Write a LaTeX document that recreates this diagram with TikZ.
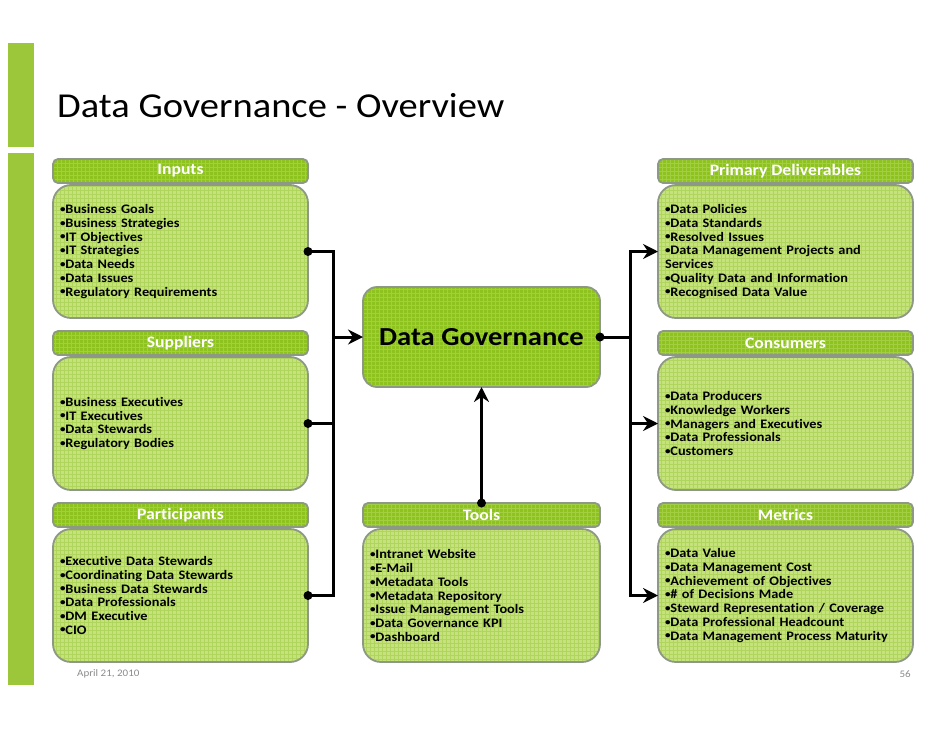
\documentclass[tikz,border=0pt]{standalone}
\usepackage{fontspec}
\setmainfont{Carlito}[FakeStretch=1.1, Ligatures=NoCommon]
\usetikzlibrary{arrows.meta}

\definecolor{barGreen}{HTML}{9DC73A}
\definecolor{headGreen}{HTML}{8DC21F}
\definecolor{headMesh}{HTML}{A2CE42}
\definecolor{bodyGreen}{HTML}{C6E27E}
\definecolor{bodyMesh}{HTML}{B0D55C}
\definecolor{edgeGray}{HTML}{8D9985}
\definecolor{footGray}{HTML}{8A8A8A}

\newcommand{\bul}{\raisebox{1.3pt}{\fontsize{10}{10}\selectfont•}}

\tikzset{
	mesh/.style={path picture={\draw[#1, line width=0.4pt]
		(path picture bounding box.south west) grid[step=4pt]
		(path picture bounding box.north east);}},
	headbox/.style={rectangle, draw=edgeGray, line width=1.8pt, rounded corners=5pt,
		fill=headGreen, mesh=headMesh, minimum width=255pt, minimum height=24pt,
		outer sep=0pt, text=white, font=\bfseries\fontsize{16}{16}\selectfont,
		anchor=north west},
	bodybox/.style={rectangle, draw=edgeGray, line width=1.8pt, rounded corners=18pt,
		fill=bodyGreen, mesh=bodyMesh, text width=241pt, inner xsep=7pt,
		minimum height=133pt, outer sep=0pt, align=left, anchor=north west,
		font=\bfseries\fontsize{13}{13.7}\selectfont},
	link/.style={draw=black, line width=3pt},
	tip/.style={-{Stealth[length=15pt, width=15pt, inset=5pt]}}
}

\begin{document}
\begin{tikzpicture}[x=1pt, y=-1pt]
	\useasboundingbox (0,0) rectangle (942,728);
	
	%Side bars and title
	\fill[barGreen] (8,43) rectangle (34,147);
	\fill[barGreen] (8,153) rectangle (34,685);
	\node (title) at (57,117) [anchor=base west, inner sep=0pt,
	font=\fontsize{35}{35}\selectfont] {Data Governance - Overview};
	
	%Headers
	\node (inputsHead) at (53,159) [headbox] {Inputs};
	\node (suppHead) at (53,331) [headbox] {Suppliers};
	\node (partsHead) at (53,503) [headbox] {Participants};
	\node (primHead) at (658,159) [headbox] {Primary Deliverables};
	\node (consHead) at (658,331) [headbox] {Consumers};
	\node (metricsHead) at (658,503) [headbox] {Metrics};
	\node (toolsHead) at (363,503) [headbox, minimum width=237pt] {Tools};
	
	%Blocks
	\node (inputsBody) at (53,185) [bodybox] {\bul Business Goals\\\bul Business Strategies\\
		\bul IT Objectives\\\bul IT Strategies\\\bul Data Needs\\\bul Data Issues\\
		\bul Regulatory Requirements};
	\node (suppBody) at (53,357) [bodybox] {\bul Business Executives\\\bul IT Executives\\
		\bul Data Stewards\\\bul Regulatory Bodies};
	\node (partsBody) at (53,529) [bodybox] {\bul Executive Data Stewards\\
		\bul Coordinating Data Stewards\\\bul Business Data Stewards\\
		\bul Data Professionals\\\bul DM Executive\\\bul CIO};
	\node (primBody) at (658,185) [bodybox] {\bul Data Policies\\\bul Data Standards\\
		\bul Resolved Issues\\\bul Data Management Projects and\\Services\\
		\bul Quality Data and Information\\\bul Recognised Data Value};
	\node (consBody) at (658,357) [bodybox] {\bul Data Producers\\\bul Knowledge Workers\\
		\bul Managers and Executives\\\bul Data Professionals\\\bul Customers};
	\node (metricsBody) at (658,529) [bodybox] {\bul Data Value\\\bul Data Management Cost\\
		\bul Achievement of Objectives\\\bul\# of Decisions Made\\
		\bul Steward Representation / Coverage\\\bul Data Professional Headcount\\
		\bul Data Management Process Maturity};
	\node (toolsBody) at (363,529) [bodybox, text width=223pt] {\bul Intranet Website\\
		\bul E-Mail\\\bul Metadata Tools\\\bul Metadata Repository\\
		\bul Issue Management Tools\\\bul Data Governance KPI\\\bul Dashboard};
	\node (govern) at (363,287) [rectangle, draw=edgeGray, line width=1.8pt,
	rounded corners=14pt, fill=headGreen, mesh=headMesh, minimum width=237pt,
	minimum height=100pt, outer sep=0pt, anchor=north west,
	font=\bfseries\fontsize{26}{26}\selectfont] {Data Governance};
	
	%Links
	\coordinate (leftBus) at (333,337);
	\coordinate (rightBus) at (630,337);
	\draw [link] (inputsBody.east) -| (leftBus);
	\draw [link] (partsBody.east) -| (leftBus);
	\draw [link] (suppBody.east) -- (suppBody.east -| leftBus);
	\draw [link, tip] (leftBus) -- (govern.west);
	\draw [link] (govern.east) -- (rightBus);
	\draw [link, tip] (rightBus) |- (primBody.west);
	\draw [link, tip] (rightBus) |- (consBody.west);
	\draw [link, tip] (rightBus) |- (metricsBody.west);
	\draw [link, tip] (toolsHead.north) -- (govern.south);
	\foreach \dot in {inputsBody.east, suppBody.east, partsBody.east, govern.east,
		toolsHead.north}
	\fill (\dot) circle [radius=4.5pt];
	
	%Footer
	\node (date) at (77,674) [anchor=west, inner sep=0pt, text=footGray,
	font=\fontsize{10}{10}\selectfont] {April 21, 2010};
	\node (page) at (911,674) [anchor=east, inner sep=0pt, text=footGray,
	font=\fontsize{10}{10}\selectfont] {56};
	
\end{tikzpicture}
\end{document}
